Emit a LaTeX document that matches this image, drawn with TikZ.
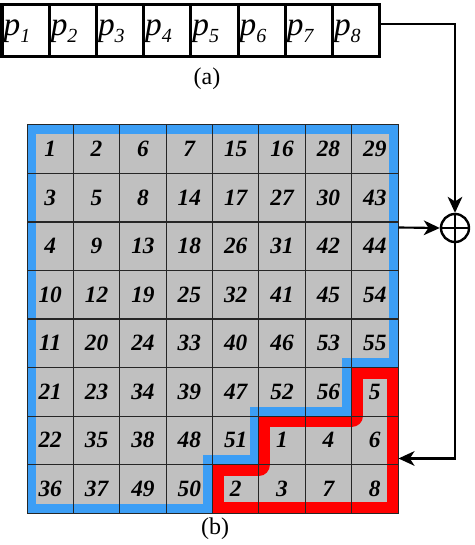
\documentclass[tikz,border=0pt]{standalone}
\usepackage{fontspec}
\setmainfont{Liberation Serif}
\usetikzlibrary{arrows.meta}
\definecolor{cellgray}{RGB}{192,192,192}
\definecolor{bandblue}{RGB}{60,158,245}
\tikzstyle{slot} = [draw=black, line width=2.25pt, minimum width=35.4pt, minimum height=39pt, inner sep=0pt, text width=33pt, align=left, font={\fontsize{25}{27}\selectfont}]
\tikzstyle{cell} = [draw=black!85, line width=0.75pt, minimum width=34.78pt, minimum height=36.38pt, inner sep=0pt, font={\fontsize{17.5}{19}\selectfont\bfseries\itshape}]
\tikzstyle{caption} = [font={\fontsize{18}{20}\selectfont}]
\tikzstyle{wire} = [line width=1.6pt]
\tikzstyle{xorop} = [draw=black, circle, line width=1.8pt, minimum size=21pt, inner sep=0pt]
\tikzstyle{blueband} = [draw=bandblue, line width=14pt]
\tikzstyle{redband} = [draw=red, line width=17pt, line join=round]
\newcommand{\pv}[1]{\textit{p}\raisebox{-0.22em}{\fontsize{15}{15}\selectfont\textit{#1}}}

\begin{document}
\begin{tikzpicture}[x=0.75pt,y=-0.75pt,>={Stealth[length=12pt,width=11pt,inset=3.5pt]}]
  \useasboundingbox (0,0) rectangle (474,545);
  % input vector
  \foreach \k in {1,...,8}
    \node[slot](p\k) at ({2+(\k-0.5)*47.2},31){\pv{\k}};
  \node[caption](a) at (207,79){(a)};
  % block corners
  \foreach \i in {0,...,8}
    \foreach \j in {0,...,8}
      \coordinate (g\i\j) at ({27+\i*46.375},{125+\j*48.5});
  \fill[cellgray] (g00) rectangle (g88);
  \begin{scope}
    \clip (g00) -- (g80) -- (g85) -- (g75) -- (g76) -- (g56) -- (g57) -- (g47) -- (g48) -- (g08) -- cycle;
    \draw[blueband] (g00) -- (g80) -- (g85) -- (g75) -- (g76) -- (g56) -- (g57) -- (g47) -- (g48) -- (g08) -- cycle;
  \end{scope}
  \begin{scope}
    \clip (g75) -- (g85) -- (g88) -- (g48) -- (g47) -- (g57) -- (g56) -- (g76) -- cycle;
    \draw[redband] (g75) -- (g85) -- (g88) -- (g48) -- (g47) -- (g57) -- (g56) -- (g76) -- cycle;
  \end{scope}
  \foreach \row [count=\rw] in {{1,2,6,7,15,16,28,29},{3,5,8,14,17,27,30,43},
      {4,9,13,18,26,31,42,44},{10,12,19,25,32,41,45,54},{11,20,24,33,40,46,53,55},
      {21,23,34,39,47,52,56,5},{22,35,38,48,51,1,4,6},{36,37,49,50,2,3,7,8}}
    \foreach \v [count=\cl] in \row
      \node[cell](n\rw\cl) at ({27+(\cl-0.5)*46.375},{125+(\rw-0.5)*48.5}){\v};
  \node[caption](b) at (215,529){(b)};
  % adder and wires
  \node[xorop](xor) at (455,228){};
  \draw[wire] (xor.west) -- (xor.east);
  \draw[wire] (xor.north) -- (xor.south);
  \coordinate (out) at ([yshift=-4.5pt]n38.north east);
  \coordinate (in) at ([yshift=4.9pt]n78.south east);
  \draw[wire,->] ([yshift=5.25pt]p8.east) -| (xor.north);
  \draw[wire,->] (out) -- (xor.west);
  \draw[wire,->] (xor.south) |- (in);
\end{tikzpicture}
\end{document}
